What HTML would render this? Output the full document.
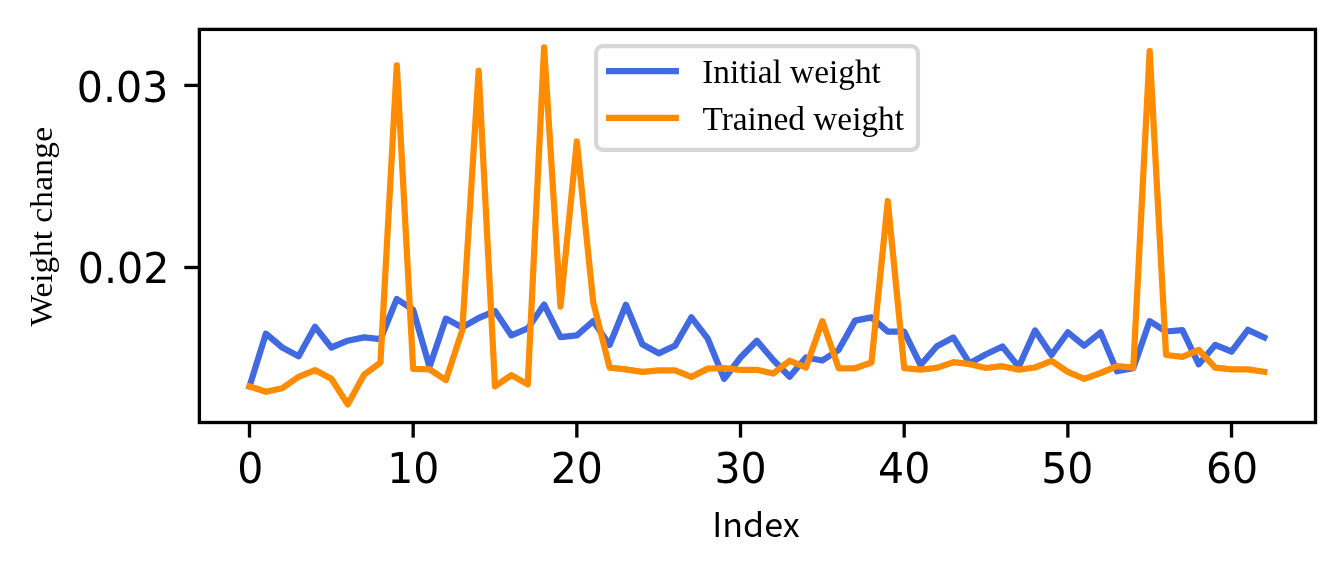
<!DOCTYPE html>
<html lang="en"><head><meta charset="utf-8"><title>Weight change</title>
<style>
html,body{margin:0;padding:0;background:#fff;}
body{width:1344px;height:574px;overflow:hidden;}
svg{display:block;}
.tick{font-family:"DejaVu Sans","Liberation Sans",sans-serif;font-size:41.67px;fill:#000;}
.serif{font-family:"Liberation Serif","DejaVu Serif",serif;font-size:33.33px;fill:#000;}
.xlabel{font-family:"Noto Sans CJK SC","Liberation Sans",sans-serif;fill:#000;}
</style></head><body>
<svg width="1344" height="574" viewBox="0 0 1344 574">
<rect x="0" y="0" width="1344" height="574" fill="#ffffff"/>
<defs><clipPath id="axclip"><rect x="199.4" y="29.4" width="1116.10" height="393.10"/></clipPath></defs>
<g clip-path="url(#axclip)" fill="none" stroke-width="6.25" stroke-linejoin="round" stroke-linecap="square">
<polyline stroke="#4169e1" points="249.50,386.40 265.87,333.70 282.23,347.50 298.60,356.30 314.97,326.70 331.34,347.50 347.70,340.70 364.07,337.40 380.44,339.20 396.80,299.00 413.17,309.80 429.54,366.80 445.90,318.60 462.27,327.40 478.64,318.00 495.00,311.10 511.37,335.40 527.74,328.40 544.11,304.50 560.47,337.10 576.84,335.40 593.21,321.10 609.57,345.00 625.94,304.80 642.31,344.20 658.67,353.30 675.04,345.70 691.41,317.40 707.78,338.70 724.14,378.80 740.51,357.50 756.88,340.70 773.24,360.00 789.61,376.80 805.98,357.50 822.35,360.50 838.71,349.80 855.08,320.60 871.45,317.40 887.81,331.70 904.18,331.70 920.55,365.00 936.91,346.20 953.28,337.40 969.65,363.30 986.01,354.30 1002.38,346.50 1018.75,366.80 1035.12,330.40 1051.48,355.00 1067.85,332.40 1084.22,345.70 1100.58,332.40 1116.95,371.30 1133.32,368.30 1149.68,321.10 1166.05,331.50 1182.42,330.10 1198.79,364.30 1215.15,344.90 1231.52,351.50 1247.89,329.80 1264.25,337.40"/>
<polyline stroke="#ff8c00" points="249.50,386.40 265.87,391.80 282.23,388.20 298.60,376.80 314.97,370.10 331.34,378.80 347.70,404.40 364.07,374.70 380.44,362.50 396.80,65.30 413.17,368.80 429.54,369.30 445.90,380.10 462.27,330.20 478.64,70.90 495.00,386.40 511.37,375.10 527.74,384.40 544.11,47.30 560.47,306.50 576.84,141.50 593.21,302.30 609.57,367.60 625.94,369.30 642.31,371.90 658.67,370.30 675.04,370.30 691.41,376.90 707.78,368.60 724.14,368.10 740.51,369.80 756.88,369.80 773.24,373.50 789.61,360.70 805.98,367.60 822.35,321.10 838.71,368.30 855.08,368.30 871.45,362.50 887.81,201.00 904.18,368.10 920.55,369.70 936.91,367.90 953.28,362.20 969.65,364.20 986.01,368.00 1002.38,366.20 1018.75,369.70 1035.12,367.50 1051.48,360.80 1067.85,371.80 1084.22,378.90 1100.58,373.00 1116.95,366.10 1133.32,367.60 1149.68,51.20 1166.05,355.00 1182.42,356.80 1198.79,350.00 1215.15,367.60 1231.52,369.30 1247.89,369.30 1264.25,371.80"/>
</g>
<g stroke="#000" stroke-width="3.33" fill="none">
<line x1="249.50" y1="422.5" x2="249.50" y2="437.60"/>
<line x1="413.17" y1="422.5" x2="413.17" y2="437.60"/>
<line x1="576.84" y1="422.5" x2="576.84" y2="437.60"/>
<line x1="740.51" y1="422.5" x2="740.51" y2="437.60"/>
<line x1="904.18" y1="422.5" x2="904.18" y2="437.60"/>
<line x1="1067.85" y1="422.5" x2="1067.85" y2="437.60"/>
<line x1="1231.52" y1="422.5" x2="1231.52" y2="437.60"/>
<line x1="184.30" y1="267.5" x2="199.4" y2="267.5"/>
<line x1="184.30" y1="85.4" x2="199.4" y2="85.4"/>
<rect x="199.4" y="29.4" width="1116.10" height="393.10" stroke-linejoin="miter"/>
</g>
<text class="tick" transform="translate(250.30,483.0) scale(0.985,1.012)" text-anchor="middle">0</text>
<text class="tick" transform="translate(413.37,483.0) scale(0.985,1.012)" text-anchor="middle">10</text>
<text class="tick" transform="translate(576.84,483.0) scale(0.985,1.012)" text-anchor="middle">20</text>
<text class="tick" transform="translate(740.51,483.0) scale(0.985,1.012)" text-anchor="middle">30</text>
<text class="tick" transform="translate(904.18,483.0) scale(0.985,1.012)" text-anchor="middle">40</text>
<text class="tick" transform="translate(1067.25,483.0) scale(0.985,1.012)" text-anchor="middle">50</text>
<text class="tick" transform="translate(1232.12,483.0) scale(0.985,1.012)" text-anchor="middle">60</text>
<text class="tick" transform="translate(169.5,283.4) scale(0.988,1.03)" text-anchor="end">0.02</text>
<text class="tick" transform="translate(168.5,101.9) scale(0.988,1.03)" text-anchor="end">0.03</text>
<text class="xlabel" transform="translate(756.0,537.1) scale(1.022,1.0)" text-anchor="middle" font-size="33.33">Index</text>
<text class="serif" transform="translate(51.9,326.4) rotate(-90) scale(1.0,0.95)">Weight <tspan dx="-0.1" letter-spacing="0.27">change</tspan></text>
<rect x="596.1" y="46.1" width="321.90" height="103.70" rx="6.67" ry="6.67" fill="#ffffff" fill-opacity="0.8" stroke="#d6d6d6" stroke-width="4.17"/>
<g fill="none" stroke-width="6.25" stroke-linecap="square">
<line x1="609.1" y1="71.0" x2="675.8" y2="71.0" stroke="#4169e1"/>
<line x1="609.1" y1="117.9" x2="675.8" y2="117.9" stroke="#ff8c00"/>
</g>
<text class="serif" x="702.2" y="82.9">Initial weight</text>
<text class="serif" x="702.5" y="129.8">Trained weight</text>
</svg>
</body></html>
